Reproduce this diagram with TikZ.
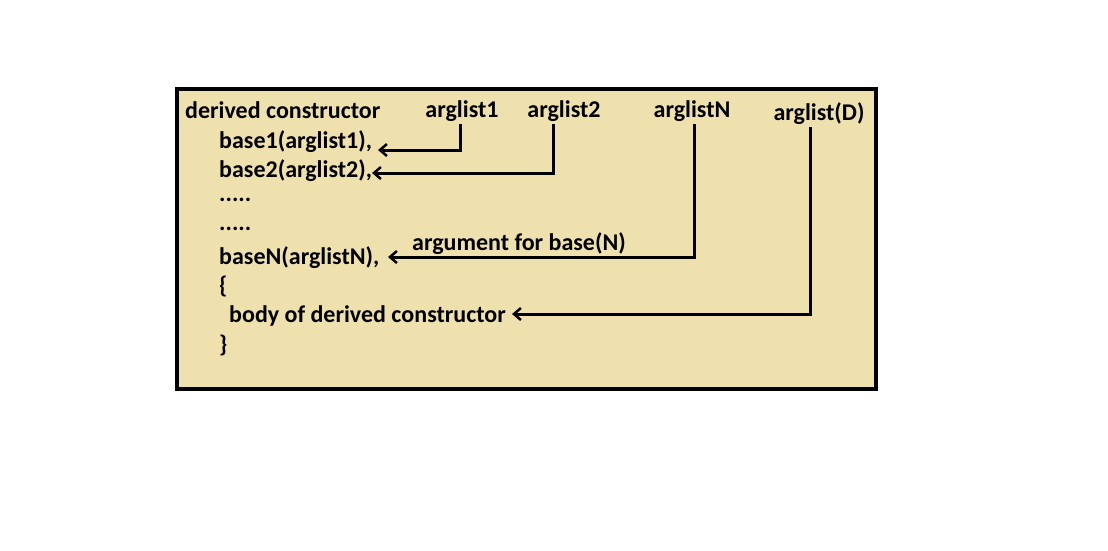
\documentclass[tikz,border=0pt]{standalone}
\usepackage{fontspec}
\setmainfont{Carlito}
\usetikzlibrary{arrows.meta}
\begin{document}
\begin{tikzpicture}[x=1pt,y=-1pt,
  txt/.style={font=\bfseries\fontsize{24}{28}\selectfont, inner sep=0pt, anchor=west},
  lbl/.style={font=\bfseries\fontsize{24}{28}\selectfont, inner sep=0pt},
  conn/.style={line width=3pt, -{Straight Barb[length=7pt,width=12pt,line width=2.5pt]}}]
\useasboundingbox (0,0) rectangle (1108,550);
\fill[white] (0,0) rectangle (1108,550);
\draw[line width=4pt, fill={rgb,255:red,239;green,225;blue,174}] (177,89) rectangle (876,389);
\node[txt] (dc) at (185,110) {derived constructor};
\node[lbl] (a1) at (462,111) {arglist1};
\node[lbl] (a2) at (564,111) {arglist2};
\node[lbl] (aN) at (692,111) {arglistN};
\node[lbl] (aD) at (819,114) {arglist(D)};
\node[txt] (b1) at (219,142) {base1(arglist1),};
\node[txt] (b2) at (219,171) {base2(arglist2),};
\node[txt] (d1) at (219,200) {.....};
\node[txt] (d2) at (219,229) {.....};
\node[txt] (bN) at (219,258) {baseN(arglistN),};
\node[txt] (ob) at (219,287) {\{};
\node[txt] (body) at (229,316) {body of derived constructor};
\node[txt] (cb) at (219,345) {\}};
\node[txt] (arg) at (412,244) {argument for base(N)};
\coordinate (t1) at (460,124);
\coordinate (t2) at (553,124);
\coordinate (tN) at (694,124);
\coordinate (tD) at (810,127);
\coordinate (e1) at (378,150);
\coordinate (e2) at (372,173);
\coordinate (eN) at (388,257);
\coordinate (eD) at (512,314);
\draw[conn] (t1) -- (460,150) -- (e1);
\draw[conn] (t2) -- (553,173) -- (e2);
\draw[conn] (tN) -- (694,257) -- (eN);
\draw[conn] (tD) -- (810,314) -- (eD);
\end{tikzpicture}
\end{document}
